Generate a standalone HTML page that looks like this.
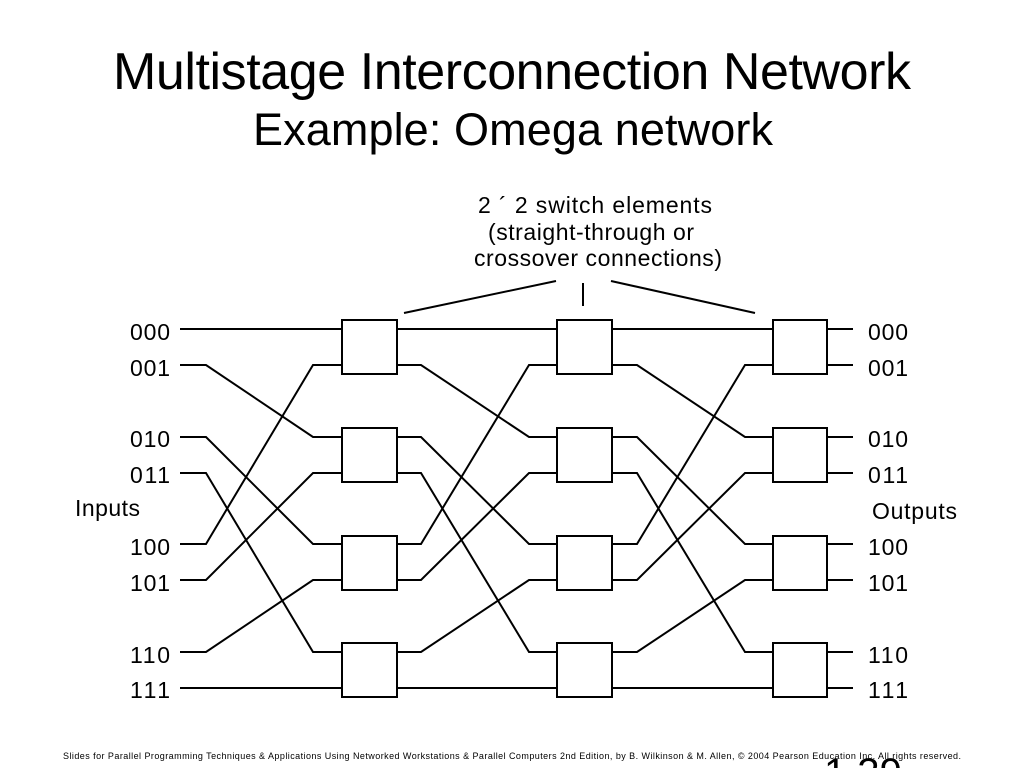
<!DOCTYPE html>
<html><head><style>
body{margin:0;background:#fff;}
svg text{font-family:"Liberation Sans",Arial,sans-serif;fill:#000;}
</style></head><body>
<svg width="1024" height="768" xmlns="http://www.w3.org/2000/svg">
<text x="512" y="89" font-size="52" text-anchor="middle" textLength="798">Multistage Interconnection Network</text>
<text x="513" y="145" font-size="45" text-anchor="middle" textLength="520">Example: Omega network</text>
<text x="595" y="213" font-size="23" text-anchor="middle" textLength="234">2 ´  2 switch elements</text>
<text x="591" y="240" font-size="23" text-anchor="middle" textLength="206">(straight-through or</text>
<text x="598" y="266" font-size="23" text-anchor="middle" textLength="248">crossover connections)</text>
<g stroke="#000" stroke-width="2" fill="none">
<line x1="404" y1="313" x2="556" y2="281"/>
<line x1="583" y1="283" x2="583" y2="306"/>
<line x1="611" y1="281" x2="755" y2="313"/>
</g>
<g font-size="23">
<text x="130" y="340" textLength="40">000</text><text x="130" y="376" textLength="40">001</text>
<text x="130" y="447" textLength="40">010</text><text x="130" y="483" textLength="40">011</text>
<text x="130" y="555" textLength="40">100</text><text x="130" y="591" textLength="40">101</text>
<text x="130" y="663" textLength="40">110</text><text x="130" y="698" textLength="40">111</text>
<text x="75" y="516" textLength="65">Inputs</text>
<text x="868" y="340" textLength="40">000</text><text x="868" y="376" textLength="40">001</text>
<text x="868" y="447" textLength="40">010</text><text x="868" y="483" textLength="40">011</text>
<text x="868" y="555" textLength="40">100</text><text x="868" y="591" textLength="40">101</text>
<text x="868" y="663" textLength="40">110</text><text x="868" y="698" textLength="40">111</text>
<text x="872" y="519" textLength="85">Outputs</text>
</g>
<g stroke="#000" stroke-width="2" fill="none">
<polyline points="180,329 342,329"/>
<polyline points="180,365 206,365 313,437 342,437"/>
<polyline points="180,437 206,437 313,544 342,544"/>
<polyline points="180,473 206,473 313,652 342,652"/>
<polyline points="180,544 206,544 313,365 342,365"/>
<polyline points="180,580 206,580 313,473 342,473"/>
<polyline points="180,652 206,652 313,580 342,580"/>
<polyline points="180,688 342,688"/>
<polyline points="397,329 557,329"/>
<polyline points="397,365 421,365 529,437 557,437"/>
<polyline points="397,437 421,437 529,544 557,544"/>
<polyline points="397,473 421,473 529,652 557,652"/>
<polyline points="397,544 421,544 529,365 557,365"/>
<polyline points="397,580 421,580 529,473 557,473"/>
<polyline points="397,652 421,652 529,580 557,580"/>
<polyline points="397,688 557,688"/>
<polyline points="612,329 773,329"/>
<polyline points="612,365 637,365 745,437 773,437"/>
<polyline points="612,437 637,437 745,544 773,544"/>
<polyline points="612,473 637,473 745,652 773,652"/>
<polyline points="612,544 637,544 745,365 773,365"/>
<polyline points="612,580 637,580 745,473 773,473"/>
<polyline points="612,652 637,652 745,580 773,580"/>
<polyline points="612,688 773,688"/>
<line x1="827" y1="329" x2="853" y2="329"/><line x1="827" y1="365" x2="853" y2="365"/>
<line x1="827" y1="437" x2="853" y2="437"/><line x1="827" y1="473" x2="853" y2="473"/>
<line x1="827" y1="544" x2="853" y2="544"/><line x1="827" y1="580" x2="853" y2="580"/>
<line x1="827" y1="652" x2="853" y2="652"/><line x1="827" y1="688" x2="853" y2="688"/>
</g>
<g stroke="#000" stroke-width="2" fill="#fff">
<rect x="342" y="320" width="55" height="54"/><rect x="342" y="428" width="55" height="54"/>
<rect x="342" y="536" width="55" height="54"/><rect x="342" y="643" width="55" height="54"/>
<rect x="557" y="320" width="55" height="54"/><rect x="557" y="428" width="55" height="54"/>
<rect x="557" y="536" width="55" height="54"/><rect x="557" y="643" width="55" height="54"/>
<rect x="773" y="320" width="54" height="54"/><rect x="773" y="428" width="54" height="54"/>
<rect x="773" y="536" width="54" height="54"/><rect x="773" y="643" width="54" height="54"/>
</g>
<text x="512" y="759" font-size="9" text-anchor="middle" textLength="898">Slides for Parallel Programming Techniques &amp; Applications Using Networked Workstations &amp; Parallel Computers 2nd Edition, by B. Wilkinson &amp; M. Allen, © 2004 Pearson Education Inc. All rights reserved.</text>
<text x="824" y="786" font-size="40">1.39</text>
</svg>
</body></html>
